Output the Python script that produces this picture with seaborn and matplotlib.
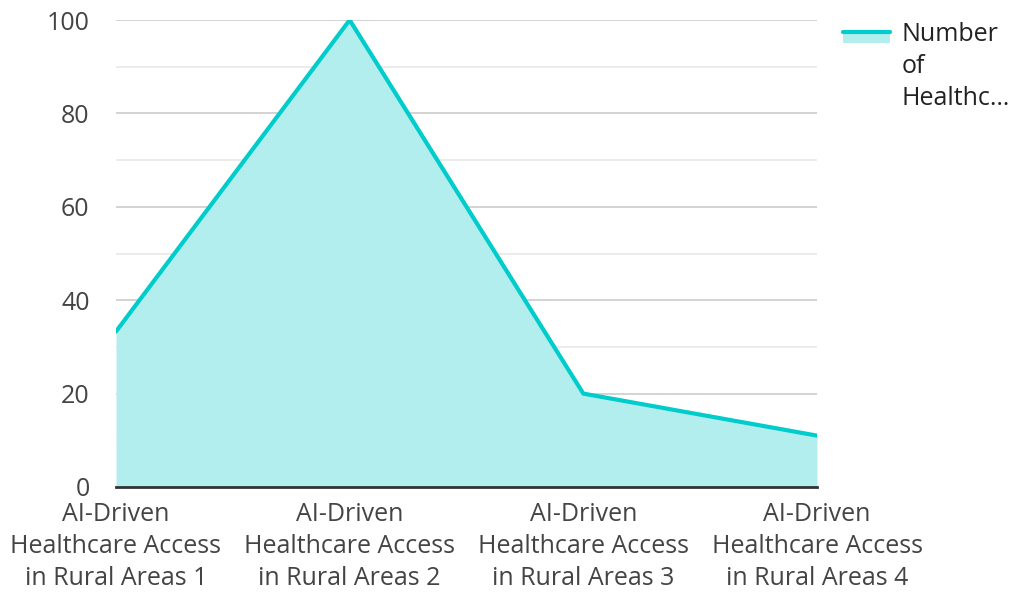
import matplotlib
matplotlib.use("Agg")
import matplotlib.pyplot as plt
from matplotlib.lines import Line2D
from matplotlib.patches import Rectangle
import seaborn as sns
import pandas as pd

categories = [
    "AI-Driven\nHealthcare Access\nin Rural Areas 1",
    "AI-Driven\nHealthcare Access\nin Rural Areas 2",
    "AI-Driven\nHealthcare Access\nin Rural Areas 3",
    "AI-Driven\nHealthcare Access\nin Rural Areas 4",
]
values = [33.3, 100, 20, 11]
series_name = "Number\nof\nHealthc\u2026"
y_ticks = [0, 20, 40, 60, 80, 100]

line_color = "#00cccc"
fill_color = "#b2eeed"
text_color = "#444444"
W, H = 1011, 592

sns.set_theme(style="white")
plt.rcParams["font.family"] = ["Open Sans", "DejaVu Sans"]

df = pd.DataFrame({"x": range(len(categories)), "y": values})

fig = plt.figure(figsize=(W / 100, H / 100), dpi=100)
ax = fig.add_axes([116 / W, 1 - 487 / H, (817 - 116) / W, (487 - 20) / H])

# grid: major every 20, lighter minor every 10
for v in range(10, 101, 10):
    major = v % 20 == 0
    ax.axhline(v, color="#c8c8c8" if major else "#e6e6e6", lw=1.1, zorder=0)

ax.fill_between(df["x"], 0, df["y"], color=fill_color, lw=0, zorder=1)
sns.lineplot(data=df, x="x", y="y", ax=ax, color=line_color, lw=3, zorder=3,
             legend=False)

ax.set_xlim(0, len(categories) - 1)
ax.set_ylim(0, 100)
ax.set_xticks(range(len(categories)))
ax.set_xticklabels(categories, fontsize=18, color=text_color, linespacing=1.36)
ax.set_yticks(y_ticks)
ax.set_yticklabels([str(t) for t in y_ticks], fontsize=18, color=text_color)
ax.tick_params(axis="y", length=0, pad=19)
ax.tick_params(axis="x", length=0, pad=11)
ax.set_xlabel("")
ax.set_ylabel("")

for s in ["top", "right", "left"]:
    ax.spines[s].set_visible(False)
ax.spines["bottom"].set_color("#333333")
ax.spines["bottom"].set_linewidth(2)
ax.spines["bottom"].set_zorder(4)

# legend key: filled band under the line, aligned with the first label line
fig.add_artist(Rectangle((843 / W, 1 - 43 / H), 47 / W, 11 / H,
                         transform=fig.transFigure, facecolor=fill_color,
                         edgecolor="none"))
fig.add_artist(Line2D([843 / W, 890 / W], [1 - 32 / H, 1 - 32 / H],
                      transform=fig.transFigure, color=line_color, lw=3))
fig.text(902 / W, 1 - 22 / H, series_name, ha="left", va="top",
         fontsize=18, color="#222222", linespacing=1.38)

fig.savefig("out.png", dpi=100)
